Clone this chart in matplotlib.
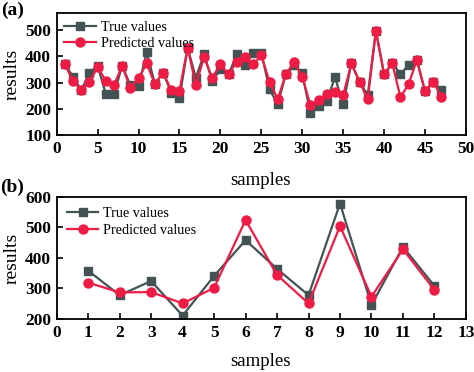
import matplotlib
matplotlib.use("Agg")
import matplotlib.pyplot as plt

# data (a)
samples_a = list(range(1, 48))
true_a = [370, 322, 271, 337, 364, 257, 257, 364, 290, 287,
          415, 295, 338, 261, 240, 433, 318, 408, 306, 350,
          331, 407, 366, 411, 414, 274, 218, 332, 368, 335,
          183, 210, 230, 320, 218, 373, 303, 252, 497, 332,
          373, 332, 367, 386, 267, 303, 271]
pred_a = [369, 306, 271, 301, 360, 306, 290, 364, 278, 316,
          373, 293, 338, 271, 269, 433, 290, 397, 318, 369,
          331, 379, 398, 369, 404, 303, 236, 332, 377, 322,
          214, 233, 256, 263, 251, 373, 303, 236, 497, 332,
          373, 244, 294, 386, 267, 303, 246]

# data (b)
samples_b = list(range(1, 13))
true_b = [358, 278, 324, 211, 341, 458, 364, 278, 578, 246, 436, 308]
pred_b = [319, 287, 288, 251, 302, 524, 344, 251, 504, 273, 428, 295]

c_true = '#435353'
c_pred = '#ee1c44'

plt.rcParams['font.family'] = ['Liberation Serif', 'DejaVu Serif']

fig = plt.figure(figsize=(4.74, 3.72), dpi=100)
ax1 = fig.add_axes([0.1196, 0.637, 0.8634, 0.328])
ax2 = fig.add_axes([0.1196, 0.1425, 0.8634, 0.3285])


def style(ax, xticks, yticks, xlim, ylim):
    ax.set_xlim(*xlim)
    ax.set_ylim(*ylim)
    ax.set_xticks(xticks)
    ax.set_yticks(yticks)
    ax.tick_params(direction='in', length=4, width=1.2, labelsize=12.5, pad=4)
    for lab in ax.get_xticklabels() + ax.get_yticklabels():
        lab.set_fontweight('bold')
    for s in ax.spines.values():
        s.set_linewidth(1.3)


ax1.plot(samples_a, true_a, color=c_true, marker='s', ms=5.5, lw=1.6, label='True values')
ax1.plot(samples_a, pred_a, color=c_pred, marker='o', ms=6.5, lw=1.6, label='Predicted values')
style(ax1, range(0, 51, 5), range(100, 501, 100), (0, 50), (100, 565))
ax1.legend(loc='upper left', frameon=False, fontsize=10.2, handlelength=2.2,
           borderaxespad=0.15, labelspacing=0.25, handletextpad=0.35)
ax1.set_ylabel('results', fontsize=14, labelpad=3)

ax2.plot(samples_b, true_b, color=c_true, marker='s', ms=5.5, lw=1.6, label='True values')
ax2.plot(samples_b, pred_b, color=c_pred, marker='o', ms=6.5, lw=1.6, label='Predicted values')
style(ax2, range(0, 14), range(200, 601, 100), (0, 13), (200, 600))
ax2.legend(loc='upper left', frameon=False, fontsize=10.2, handlelength=2.2,
           borderaxespad=0.35, labelspacing=0.25, handletextpad=0.35)
ax2.set_ylabel('results', fontsize=14, labelpad=3)

fig.text(0.55, 0.515, 'samples', fontsize=13.5, ha='center', va='center')
fig.text(0.55, 0.027, 'samples', fontsize=13.5, ha='center', va='center')
fig.text(0.003, 0.972, '(a)', fontsize=14, fontweight='bold', ha='left', va='center')
fig.text(0.0, 0.497, '(b)', fontsize=14, fontweight='bold', ha='left', va='center')

fig.savefig('out.png', dpi=100)
